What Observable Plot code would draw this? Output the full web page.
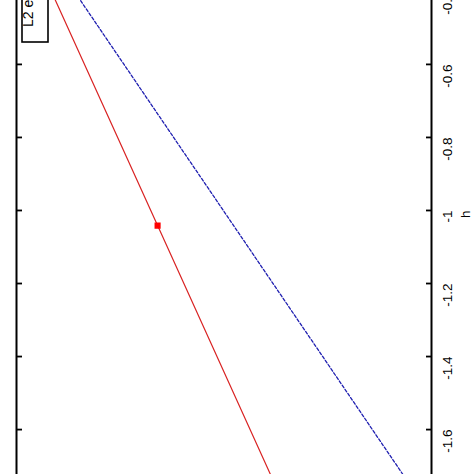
<!DOCTYPE html>
<html>
<head>
<meta charset="utf-8">
<script src="https://cdn.jsdelivr.net/npm/d3@7"></script>
<script src="https://cdn.jsdelivr.net/npm/@observablehq/plot@0.6"></script>
<style>
  html, body { margin: 0; padding: 0; background: white; }
  #chart { width: 474px; height: 474px; overflow: hidden; }
</style>
</head>
<body>
<div id="chart"></div>
<script>
// log10(h) sample points
const logH = [-0.3010, -1.0414, -2.0043];
// log10 of L2 error (red, solid, square markers)
const redLogE = [-1.602, -3.083, -5.009];
// reference slope line (blue, dashed)
const blueLogE = [-1.780, -4.001, -6.890];
// h-axis ticks and labels
const hTicks = [-0.4, -0.6, -0.8, -1, -1.2, -1.4, -1.6];
const hTickLabels = ["-0.4", "-0.6", "-0.8", "-1", "-1.2", "-1.4", "-1.6"];
const legendText = "L2 error";

// scale layout (visible window of the rotated figure)
const errDomain = [-1.379, -6.391];
const hDomain = [-1.723, -0.425];

const red = logH.map((h, i) => ({logH: h, logE: redLogE[i]}));
const blue = logH.map((h, i) => ({logH: h, logE: blueLogE[i]}));
const tickRows = hTicks.map((t, i) => ({t, label: hTickLabels[i]}));

const plot = Plot.plot({
  width: 474,
  height: 474,
  marginLeft: 16,
  marginRight: 43,
  marginTop: 0,
  marginBottom: 0,
  style: {fontFamily: "'Liberation Sans', Arial, sans-serif", background: "white", color: "black"},
  x: {domain: errDomain, axis: null},
  y: {domain: hDomain, axis: null},
  marks: [
    Plot.line(blue, {x: "logE", y: "logH", stroke: "#1f1fb0", strokeWidth: 1.3, strokeDasharray: "3,2", clip: true}),
    Plot.line(red, {x: "logE", y: "logH", stroke: "#d92323", strokeWidth: 1.2, clip: true}),
    Plot.dot(red, {x: "logE", y: "logH", symbol: "square", fill: "#ff0000", stroke: "#ff0000", r: 2.6, clip: true}),
    Plot.ruleX(errDomain, {stroke: "black", strokeWidth: 2}),
    Plot.axisY({anchor: "right", ticks: hTicks, tickSize: 6, dx: -6, fill: "none", stroke: "black", strokeWidth: 1.8, label: null}),
    Plot.axisY({anchor: "left", ticks: hTicks, tickSize: 6, dx: 6, fill: "none", stroke: "black", strokeWidth: 1.8, label: null}),
    Plot.text(tickRows, {y: "t", text: "label", frameAnchor: "right", dx: 16, rotate: -90, fontSize: 13.5, fill: "black"}),
    Plot.text(["h"], {y: () => -1, text: d => d, frameAnchor: "right", dx: 34, rotate: -90, fontSize: 13.5, fill: "black"})
  ]
});

// legend box (top-left, rotated with the figure)
const svg = d3.select(plot);
const lg = svg.append("g");
lg.append("rect").attr("x", 22).attr("y", -20).attr("width", 26).attr("height", 62)
  .attr("fill", "white").attr("stroke", "black").attr("stroke-width", 1.6);
lg.append("text").attr("transform", "translate(32.5,27) rotate(-90)")
  .attr("font-size", 14).attr("fill", "black").attr("text-anchor", "start")
  .text(legendText);

document.getElementById("chart").appendChild(plot);
</script>
</body>
</html>
